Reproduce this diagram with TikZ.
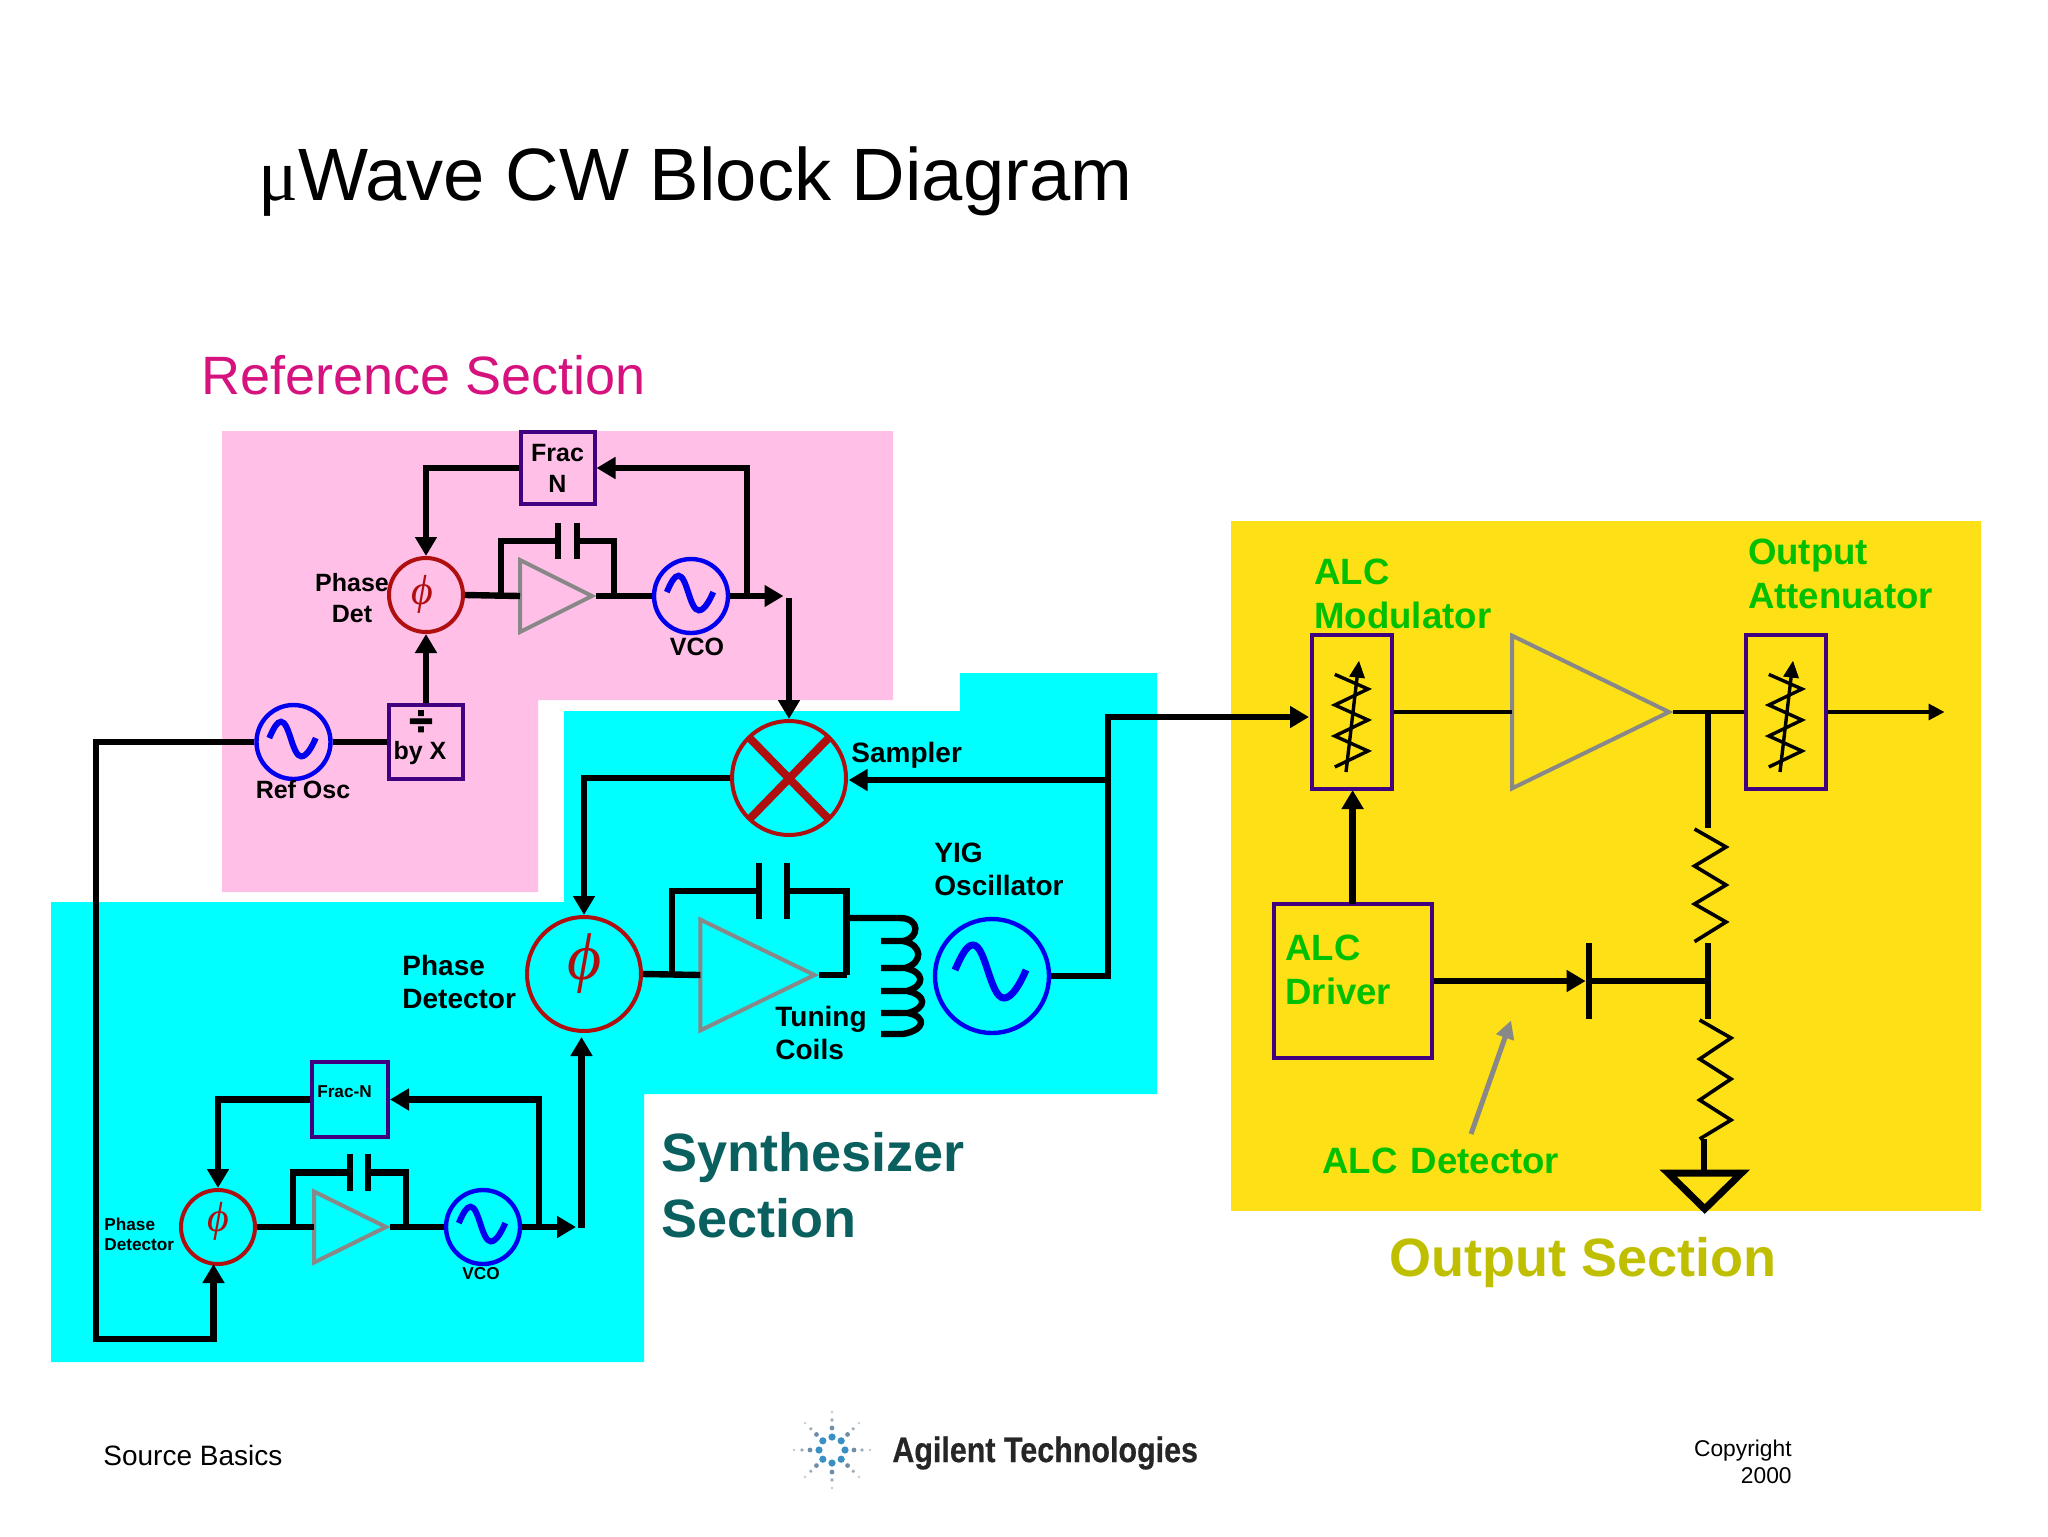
\documentclass[tikz,border=0pt]{standalone}
\usepackage{fontspec}
\setmainfont{Liberation Sans}
\newfontfamily\symf{Liberation Serif}
\usetikzlibrary{arrows.meta,shapes.geometric}
\definecolor{pinkbg}{HTML}{FFBFE6}
\definecolor{cyanbg}{HTML}{00FFFF}
\definecolor{yellowbg}{HTML}{FDE016}
\definecolor{boxp}{HTML}{400080}
\definecolor{redc}{HTML}{B00F0F}
\definecolor{bluec}{HTML}{0000EE}
\definecolor{greyc}{HTML}{888888}
\definecolor{greent}{HTML}{00C000}
\definecolor{magt}{HTML}{D6127E}
\definecolor{tealt}{HTML}{0A5F5F}
\definecolor{olivet}{HTML}{BFBF00}
\definecolor{logoa}{HTML}{3A8FC4}
\definecolor{logob}{HTML}{6F8EA6}
\definecolor{logoc}{HTML}{9DAEBB}
\definecolor{logod}{HTML}{C4CDD4}
\tikzset{
  wire/.style={line width=3.2pt,black},
  thin wire/.style={line width=1.6pt,black},
  arr/.style={-{Triangle[length=9.5pt,width=10.5pt]}},
  arrs/.style={-{Triangle[length=8pt,width=8pt]}},
  box/.style={draw=boxp,line width=2pt,rectangle,inner sep=0pt},
  det/.style={draw=redc,line width=2pt,circle,inner sep=0pt,minimum size=37pt},
  detl/.style={draw=redc,line width=2pt,circle,inner sep=0pt,minimum size=57pt},
  osc/.style={draw=bluec,line width=2.2pt,circle,inner sep=0pt,minimum size=37pt},
  oscl/.style={draw=bluec,line width=2.2pt,circle,inner sep=0pt,minimum size=57pt},
  amp/.style={draw=greyc,line width=2pt,isosceles triangle,isosceles triangle stretches,inner sep=0pt,outer sep=0pt,anchor=apex},
  plate/.style={fill=black,rectangle,inner sep=0pt,minimum width=3pt},
  lb/.style={font=\fontsize{12.5}{15.5}\selectfont\bfseries,align=center,inner sep=0pt},
  lbm/.style={font=\fontsize{14}{16.5}\selectfont\bfseries,align=left,inner sep=0pt,anchor=west},
  lbs/.style={font=\fontsize{8.6}{10}\selectfont\bfseries,align=left,inner sep=0pt},
  lbg/.style={font=\fontsize{18.3}{22.3}\selectfont\bfseries,align=left,inner sep=0pt,anchor=west,text=greent},
  sect/.style={font=\fontsize{27}{32}\selectfont\bfseries,align=left,inner sep=0pt,anchor=west},
  phis/.style={font=\fontsize{21}{21}\selectfont\symf\itshape,text=redc,inner sep=0pt},
  phil/.style={font=\fontsize{33}{33}\selectfont\symf\itshape,text=redc,inner sep=0pt},
  sinew/.pic={\draw[bluec,line width=#1]
    (-37,-6) .. controls (-30,-22) and (-25,-31) .. (-19,-31)
    .. controls (-6,-31) and (-2,22) .. (12,22)
    .. controls (20,22) and (28,8) .. (34,-6);},
  zig/.style={line width=1.8pt,black,line join=miter},
}
\begin{document}
\begin{tikzpicture}[x=0.5pt,y=-0.5pt]
\path[use as bounding box,fill=white] (0,0) rectangle (2048,1536);
% backgrounds
\fill[pinkbg] (222,431)--(893,431)--(893,700)--(538,700)--(538,892)--(222,892)--cycle;
\fill[cyanbg] (960,673)--(1157,673)--(1157,1094)--(644,1094)--(644,1362)--(51,1362)--(51,902)--(564,902)--(564,711)--(960,711)--cycle;
\fill[yellowbg] (1231,521) rectangle (1981,1211);
% title and section headings
\node[anchor=west,inner sep=0pt,font=\fontsize{37.1}{40}\selectfont] (title) at (258,182) {{\symf μ}Wave CW Block Diagram};
\node[anchor=west,inner sep=0pt,font=\fontsize{27}{32}\selectfont,text=magt] (refsec) at (201,375) {Reference Section};
\node[sect,text=tealt] (synsec) at (661,1185) {Synthesizer\\[1pt]Section};
\node[sect,text=olivet] (outsec) at (1389,1263) {Output Section};
% reference section
\node[box,minimum width=37pt,minimum height=36pt,lb] (frac) at (557.5,468) {Frac\\N};
\node[det] (pd) at (426,595) {};
\node[phis] (pdphi) at (422,594) {ϕ};
\node[amp,minimum width=36pt,minimum height=36pt] (am) at (592,596) {};
\node[osc] (vco) at (691,596) {};
\path (vco.center) pic[scale=.655] {sinew={3pt}};
\node[lb] (vcot) at (697,647) {VCO};
\node[lb] (pdt) at (352,598) {Phase\\Det};
\node[osc] (ro) at (293.5,742) {};
\path (ro.center) pic[scale=.655] {sinew={3pt}};
\node[lb] (rot) at (303,790) {Ref Osc};
\node[box,minimum width=37pt,minimum height=37pt] (byx) at (426,742) {};
\node[lb,font=\fontsize{21}{21}\selectfont\bfseries\addfontfeature{FakeBold=2.5}] (divt) at (421,723) {÷};
\node[lb] (byxt) at (420,753) {by X};
\node[plate,minimum height=18pt] (pa1) at (558,541) {};
\node[plate,minimum height=18pt] (pa2) at (576.5,541) {};
\coordinate (a1) at (501,596);
\coordinate (a2) at (614,596);
\coordinate (tap1) at (747,596);
\coordinate (o1) at (783.5,596);
\coordinate (i1) at (789,598);
\draw[wire,arr] (frac.west) -| (pd.north);
\draw[wire,arr] (tap1) |- (frac.east);
\draw[wire] (pd.east) -- (am.west);
\draw[wire] ([xshift=2pt]am.apex) -- (vco.west);
\draw[wire] (a1) |- (pa1.west);
\draw[wire] (a2) |- (pa2.east);
\draw[wire,arr] (vco.east) -- (o1);
\draw[wire] (ro.east) -- (byx.west);
\draw[wire,arr] (byx.north) -- (pd.south);
% synthesizer section
\node[detl] (smp) at (789,778) {};
\draw[redc,line width=4pt] (749.6,738) -- (828.6,819) (828.6,738) -- (749.6,819);
\node[lbm] (smpt) at (851,755) {Sampler};
\node[detl] (pdl) at (584,974) {};
\node[phil] (pdlphi) at (585,964) {ϕ};
\node[lbm] (pdlt) at (402,982) {Phase\\Detector};
\node[amp,minimum width=55.4pt,minimum height=57.1pt] (aml) at (814.5,975) {};
\node[plate,minimum height=28pt] (pb1) at (759,891) {};
\node[plate,minimum height=28pt] (pb2) at (787,891) {};
\coordinate (b1) at (672,975);
\coordinate (b2) at (846.5,975);
\node[oscl] (yig) at (992,976) {};
\path (yig.center) pic {sinew={3.5pt}};
\node[lbm] (yigt) at (934,869) {YIG\\Oscillator};
\node[lbm] (tunt) at (775,1033) {Tuning\\Coils};
\coordinate (cr) at (1108,717);
\coordinate (modin) at (1309,717);
\coordinate (smpi) at (848.6,780);
\draw[wire,arr] (i1) -- (smp.north);
\draw[wire,arr] (smp.west) -| (pdl.north);
\draw[wire,arr] (smpi -| cr) -- (smpi);
\draw[wire] (pdl.east) -- (aml.west);
\draw[wire] ([xshift=2pt]aml.apex) -- (b2);
\draw[wire] (b1) |- (pb1.west);
\draw[wire] (b2) |- (pb2.east);
\draw[wire] (846,918) -- (900,918) .. controls (920,918) and (920,938) .. (903,941) -- (881,941) -- (903,941)
  .. controls (923,945) and (923,963) .. (905,968) -- (881,968) -- (905,968)
  .. controls (925,972) and (925,986) .. (907,991) -- (881,991) -- (907,991)
  .. controls (927,995) and (927,1008) .. (908,1013) -- (881,1013) -- (908,1013)
  .. controls (927,1017) and (925,1030) .. (903,1034) -- (881,1034);
\draw[wire,arr] (yig.east) -| (cr) -- (modin);
% small loop
\node[box,minimum width=38pt,minimum height=37.5pt] (fracs) at (350,1099.5) {};
\node[lbs] (fracst) at (344.5,1092) {Frac-N};
\node[det] (pds) at (218,1227) {};
\node[phis] (pdsphi) at (218,1221) {ϕ};
\node[lbs,anchor=west] (pdst) at (104,1234) {Phase\\Detector};
\node[amp,minimum width=35.5pt,minimum height=36pt] (ams) at (386,1227) {};
\node[plate,minimum height=18.5pt] (pc1) at (350,1172.5) {};
\node[plate,minimum height=18.5pt] (pc2) at (368,1172.5) {};
\coordinate (c1) at (293,1227);
\coordinate (c2) at (406,1227);
\node[osc] (vcos) at (483,1227) {};
\path (vcos.center) pic[scale=.655] {sinew={3pt}};
\node[lbs] (vcost) at (481,1274) {VCO};
\coordinate (tap2) at (539,1227);
\coordinate (o2) at (576,1227);
\coordinate (up) at (581.5,1228);
\coordinate (pdlin) at (581.5,1037);
\coordinate (low) at (96,1339);
\coordinate (pdsin) at (213.5,1264);
\draw[wire,arr] (fracs.west) -| (pds.north);
\draw[wire,arr] (tap2) |- (fracs.east);
\draw[wire] (pds.east) -- (ams.west);
\draw[wire] ([xshift=2pt]ams.apex) -- (vcos.west);
\draw[wire] (c1) |- (pc1.west);
\draw[wire] (c2) |- (pc2.east);
\draw[wire,arr] (vcos.east) -- (o2);
\draw[wire,arr] (up) -- (pdlin);
\draw[wire,arr] (ro.west) -| (low) -- (low -| pdsin) -- (pdsin);
% output section
\node[box,minimum width=40pt,minimum height=77pt] (mod) at (1351.5,712) {};
\node[box,minimum width=40pt,minimum height=77pt] (att) at (1786,712) {};
\node[amp,minimum width=76.3pt,minimum height=78.4pt] (amo) at (1669,712) {};
\node[box,minimum width=79pt,minimum height=77pt] (drv) at (1353,981) {};
\node[lbg] (drvt) at (1285,970) {ALC\\Driver};
\node[lbg] (modt) at (1314,594) {ALC\\Modulator};
\node[lbg] (attt) at (1747.6,574) {Output\\Attenuator};
\node[lbg] (dett) at (1322,1161) {ALC\hspace{1.5pt}  Detector};
\coordinate (outp) at (1944.5,712);
\coordinate (tap3) at (1708,712);
\coordinate (r1t) at (1708,828);
\coordinate (vt) at (1708,943);
\coordinate (vb) at (1708,1019);
\coordinate (gt) at (1703.7,1139);
\coordinate (gb) at (1703.7,1172);
\coordinate (gs) at (1471,1134);
\coordinate (ge) at (1511,1020.5);
\node[plate,minimum width=3pt,minimum height=38pt] (dio) at (1589,981) {};
\draw[thin wire] (mod.east) -- (amo.west);
\draw[thin wire] ([xshift=2pt]amo.apex) -- (att.west);
\draw[thin wire,arrs] (att.east) -- (outp);
\draw[wire,line width=3.4pt] (tap3) -- (r1t);
\draw[wire,line width=3.4pt] (vt) -- (vb);
\draw[wire,arr] (drv.east) -- (dio.west);
\draw[wire] (dio.east) -- (vt |- dio.east);
\draw[wire,arr] (1352.6,904) -- (1352.6,790);
\draw[zig] (1694.5,829)--(1726,847)--(1694.5,866)--(1726,885)--(1694.5,904)--(1726,922)--(1694.5,941.6);
\draw[zig] (1699.6,1020)--(1731,1038)--(1699.6,1059)--(1731,1079)--(1699.6,1100)--(1731,1120)--(1699.6,1139);
\draw[wire] (gt) -- (gb);
\draw[line width=3.5pt,line join=miter] (1668,1173)--(1741.5,1173)--(1704.7,1209)--cycle;
\draw[greyc,line width=2.5pt,-{Triangle[length=9pt,width=9pt]}] (gs) -- (ge);
\foreach \dx in {0,434}{
  \begin{scope}[xshift=\dx*0.5pt]
  \draw[zig,line width=1.7pt] (1334.8,674.4)--(1368,689)--(1334.8,705)--(1368,720)--(1334.8,736)--(1368,751)--(1334.8,767);
  \draw[line width=1.7pt,-{Triangle[length=8.5pt,width=7.5pt]}] (1346,772) -- (1359,660.6);
  \end{scope}
}
% footer
\node[anchor=west,inner sep=0pt,font=\fontsize{14}{16}\selectfont] (src) at (103,1455) {Source Basics};
\node[anchor=east,inner sep=0pt,align=right,font=\fontsize{11.4}{13.5}\selectfont] (cpy) at (1792,1462) {Copyright\\2000};
\foreach \a in {0,45,...,315}{
  \fill[logoa] (832,1450) ++(\a:13) circle (1.8pt);
  \fill[logob] (832,1450) ++(\a:22) circle (1.2pt);
  \fill[logoc] (832,1450) ++(\a:30) circle (.9pt);
  \fill[logod] (832,1450) ++(\a:38) circle (.7pt);
}
\node[anchor=west,inner sep=0pt,font=\fontsize{17.7}{20}\selectfont\bfseries\addfontfeature{FakeBold=.5},text=black!85,xscale=.86,transform shape] (agl) at (892,1453) {Agilent Technologies};
\end{tikzpicture}
\end{document}
